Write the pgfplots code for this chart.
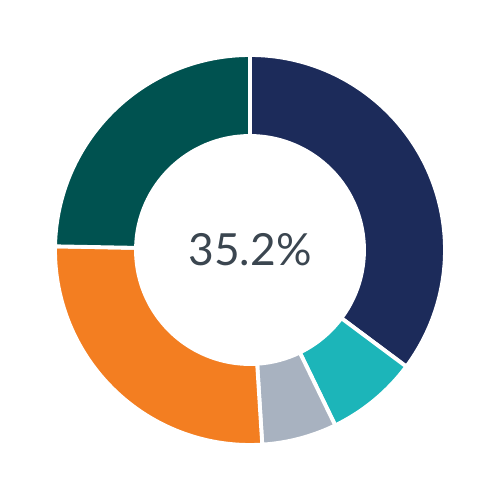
\documentclass[border=0pt]{standalone}
\usepackage{pgfplots}
\usepackage{pgfplotstable}
\pgfplotsset{compat=1.18}
\usepackage{fontspec}
\setmainfont{Lato}

\definecolor{segnavy}{HTML}{1C2B5A}
\definecolor{segteal}{HTML}{1CB5B9}
\definecolor{seggray}{HTML}{A8B2C0}
\definecolor{segorange}{HTML}{F37E21}
\definecolor{seggreen}{HTML}{005250}
\definecolor{labelgray}{HTML}{3B4650}

% share of each segment, clockwise from 12 o'clock
\pgfplotstableread{
value colour
35.2  segnavy
7.6   segteal
6.2   seggray
26.3  segorange
24.7  seggreen
}\donutdata

\def\Rout{1.95}
\def\Rin{1.14}

\begin{document}
\begin{tikzpicture}
\begin{axis}[
    hide axis,
    x=1cm, y=1cm,
    disabledatascaling,
    xmin=-2.5, xmax=2.5,
    ymin=-2.5, ymax=2.5,
    clip=false,
]
\path (axis cs:-2.5,-2.5) rectangle (axis cs:2.5,2.5);
\pgfplotstablegetrowsof{\donutdata}
\pgfmathtruncatemacro{\lastrow}{\pgfplotsretval-1}
\def\cum{0}
\pgfplotsforeachungrouped \i in {0,...,\lastrow}{
    \pgfplotstablegetelem{\i}{value}\of\donutdata
    \let\val\pgfplotsretval
    \pgfplotstablegetelem{\i}{colour}\of\donutdata
    \let\col\pgfplotsretval
    \pgfmathsetmacro{\sa}{90-3.6*\cum}
    \pgfmathsetmacro{\ea}{90-3.6*(\cum+\val)}
    \pgfmathsetmacro{\cum}{\cum+\val}
    \pgfmathsetmacro{\xa}{\Rout*cos(\sa)}
    \pgfmathsetmacro{\ya}{\Rout*sin(\sa)}
    \pgfmathsetmacro{\xb}{\Rin*cos(\ea)}
    \pgfmathsetmacro{\yb}{\Rin*sin(\ea)}
    \edef\wedge{\noexpand\filldraw[fill=\col, draw=white, line width=1.1pt]
        (axis cs:\xa,\ya) arc[start angle=\sa, end angle=\ea, radius=\Rout cm]
        -- (axis cs:\xb,\yb) arc[start angle=\ea, end angle=\sa, radius=\Rin cm]
        -- cycle;}
    \wedge
}
\node[text=labelgray, font=\fontsize{12.6}{15}\selectfont] at (axis cs:0,0) {35.2\%};
\end{axis}
\end{tikzpicture}
\end{document}
